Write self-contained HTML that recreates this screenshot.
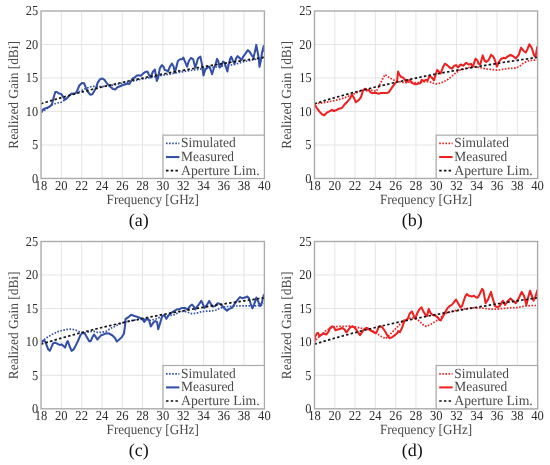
<!DOCTYPE html>
<html><head><meta charset="utf-8"><title>Realized Gain</title>
<style>html,body{margin:0;padding:0;background:#fff;}svg{display:block;filter:blur(0.35px);text-rendering:geometricPrecision;}</style>
</head><body>
<svg width="550" height="465" viewBox="0 0 550 465">
<rect width="550" height="465" fill="#fff"/>
<g>
<path d="M61.35 11.00V178.45M81.66 11.00V178.45M101.96 11.00V178.45M122.27 11.00V178.45M142.57 11.00V178.45M162.88 11.00V178.45M183.18 11.00V178.45M203.49 11.00V178.45M223.79 11.00V178.45M244.10 11.00V178.45M41.05 144.96H264.40M41.05 111.47H264.40M41.05 77.98H264.40M41.05 44.49H264.40" stroke="#e2e2e2" stroke-width="0.9" fill="none"/>
<clipPath id="clipa"><rect x="41.05" y="11.00" width="223.35" height="167.45"/></clipPath>
<g clip-path="url(#clipa)" fill="none" stroke-linejoin="round">
<polyline points="41.3,112.2 46.0,109.4 50.0,106.2 53.1,104.4 57.5,103.0 61.8,102.2 64.9,99.8 67.0,98.2 69.5,95.6 71.6,93.9 74.0,93.4 77.0,92.4 80.0,91.2 83.5,89.6 86.9,88.0 92.4,86.3 97.0,86.6 101.0,86.7 112.1,85.3 122.3,83.3 142.6,79.0 162.9,75.3 183.2,71.6 203.5,68.6 223.8,65.9 233.9,64.6 244.1,61.6 254.2,59.6 264.4,57.9" stroke="#3350a6" stroke-width="1.7" stroke-dasharray="1.6 1.5"/>
<polyline points="41.3,112.2 43.3,109.2 44.9,108.6 46.5,108.1 48.2,107.3 50.4,106.2 52.0,104.0 53.6,97.5 55.3,92.0 56.9,92.0 59.1,93.6 61.3,94.0 62.9,96.4 64.9,99.6 66.7,98.5 69.5,95.3 71.6,93.6 73.8,94.0 76.0,92.9 77.6,89.8 79.3,85.5 82.0,83.1 84.2,83.3 85.8,87.6 88.0,92.0 90.2,94.7 92.4,94.2 94.0,91.5 96.2,87.6 97.6,82.9 99.9,79.4 102.1,78.5 104.3,79.6 107.0,83.5 110.3,86.7 113.0,88.9 115.2,89.5 117.4,87.3 120.1,86.2 122.8,85.1 125.0,84.5 127.2,83.5 129.4,84.0 131.0,81.3 132.6,78.5 134.8,77.5 136.5,75.8 138.6,75.3 140.8,75.8 143.0,73.6 145.2,72.0 147.4,71.5 149.0,74.7 150.6,77.5 152.8,72.0 154.9,69.5 156.0,76.0 156.8,80.9 158.2,77.6 159.8,68.4 162.0,65.1 163.6,66.7 164.7,70.0 166.9,70.5 168.0,71.6 169.6,67.3 171.8,63.5 173.5,66.2 174.9,72.7 176.2,67.8 177.8,61.3 179.5,59.6 182.2,59.1 183.3,57.5 184.9,61.3 187.1,66.7 188.7,61.3 190.9,58.0 193.1,59.1 195.3,67.8 198.0,58.5 200.4,56.6 202.1,65.1 203.5,75.5 205.1,70.0 207.3,67.5 209.3,66.8 210.5,69.3 212.1,74.2 213.7,68.7 215.4,64.9 217.0,58.9 218.1,60.5 219.7,67.6 221.4,66.0 223.0,61.6 224.6,62.7 226.3,68.2 227.4,71.5 228.5,64.9 230.1,58.9 231.2,56.7 232.8,60.5 234.5,63.8 236.1,58.4 237.7,56.2 239.4,57.8 241.5,60.0 243.6,56.1 245.8,53.1 247.9,50.1 249.6,51.8 251.8,55.6 253.5,57.4 254.8,52.2 256.3,44.9 257.5,51.3 258.7,58.2 259.5,66.8 260.8,60.8 262.1,52.2 263.8,45.8 264.4,52.0" stroke="#3350a6" stroke-width="2.05"/>
<polyline points="41.0,103.8 46.1,102.2 51.2,100.6 56.3,99.1 61.4,97.6 66.4,96.2 71.5,94.8 76.6,93.4 81.7,92.1 86.7,90.8 91.8,89.5 96.9,88.3 102.0,87.0 107.0,85.8 112.1,84.7 117.2,83.5 122.3,82.4 127.3,81.3 132.4,80.2 137.5,79.1 142.6,78.1 147.6,77.0 152.7,76.0 157.8,75.0 162.9,74.0 168.0,73.1 173.0,72.1 178.1,71.2 183.2,70.3 188.3,69.4 193.3,68.5 198.4,67.6 203.5,66.8 208.6,65.9 213.6,65.1 218.7,64.3 223.8,63.4 228.9,62.6 233.9,61.8 239.0,61.1 244.1,60.3 249.2,59.5 254.2,58.8 259.3,58.0 264.4,57.3" stroke="#111" stroke-width="1.7" stroke-dasharray="2.5 2.2"/>
</g>
<rect x="41.05" y="11.00" width="223.35" height="167.45" fill="none" stroke="#ababab" stroke-width="1.4"/>
<g font-family="'Liberation Serif', 'DejaVu Serif', serif" font-size="13.6" fill="#2e2e2e">
<text x="38.10" y="182.90" text-anchor="end" textLength="6.2" lengthAdjust="spacingAndGlyphs">0</text>
<text x="38.10" y="149.41" text-anchor="end" textLength="6.2" lengthAdjust="spacingAndGlyphs">5</text>
<text x="38.10" y="115.92" text-anchor="end" textLength="12.3" lengthAdjust="spacingAndGlyphs">10</text>
<text x="38.10" y="82.43" text-anchor="end" textLength="12.3" lengthAdjust="spacingAndGlyphs">15</text>
<text x="38.10" y="48.94" text-anchor="end" textLength="12.3" lengthAdjust="spacingAndGlyphs">20</text>
<text x="38.10" y="15.45" text-anchor="end" textLength="12.3" lengthAdjust="spacingAndGlyphs">25</text>
<text x="41.05" y="190.05" text-anchor="middle" textLength="12.6" lengthAdjust="spacingAndGlyphs">18</text>
<text x="61.35" y="190.05" text-anchor="middle" textLength="12.6" lengthAdjust="spacingAndGlyphs">20</text>
<text x="81.66" y="190.05" text-anchor="middle" textLength="12.6" lengthAdjust="spacingAndGlyphs">22</text>
<text x="101.96" y="190.05" text-anchor="middle" textLength="12.6" lengthAdjust="spacingAndGlyphs">24</text>
<text x="122.27" y="190.05" text-anchor="middle" textLength="12.6" lengthAdjust="spacingAndGlyphs">26</text>
<text x="142.57" y="190.05" text-anchor="middle" textLength="12.6" lengthAdjust="spacingAndGlyphs">28</text>
<text x="162.88" y="190.05" text-anchor="middle" textLength="12.6" lengthAdjust="spacingAndGlyphs">30</text>
<text x="183.18" y="190.05" text-anchor="middle" textLength="12.6" lengthAdjust="spacingAndGlyphs">32</text>
<text x="203.49" y="190.05" text-anchor="middle" textLength="12.6" lengthAdjust="spacingAndGlyphs">34</text>
<text x="223.79" y="190.05" text-anchor="middle" textLength="12.6" lengthAdjust="spacingAndGlyphs">36</text>
<text x="244.10" y="190.05" text-anchor="middle" textLength="12.6" lengthAdjust="spacingAndGlyphs">38</text>
<text x="264.40" y="190.05" text-anchor="middle" textLength="12.6" lengthAdjust="spacingAndGlyphs">40</text>
</g>
<text x="152.72" y="203.55" font-family="'Liberation Serif', 'DejaVu Serif', serif" font-size="14" fill="#4a4a4a" text-anchor="middle" textLength="92.2" lengthAdjust="spacingAndGlyphs">Frequency [GHz]</text>
<text transform="translate(17.60 94.92) rotate(-90)" font-family="'Liberation Serif', 'DejaVu Serif', serif" font-size="14" fill="#4a4a4a" text-anchor="middle" textLength="107.7" lengthAdjust="spacingAndGlyphs">Realized Gain [dBi]</text>
<rect x="163.00" y="135.15" width="101.40" height="43.30" fill="#fff" stroke="#ababab" stroke-width="1.2"/>
<line x1="166.00" x2="179.40" y1="143.45" y2="143.45" stroke="#3350a6" stroke-width="1.7" stroke-dasharray="1.6 1.5"/>
<text x="181.10" y="147.35" font-family="'Liberation Serif', 'DejaVu Serif', serif" font-size="14" fill="#4a4a4a" textLength="54.6" lengthAdjust="spacingAndGlyphs">Simulated</text>
<line x1="166.00" x2="179.40" y1="157.05" y2="157.05" stroke="#3350a6" stroke-width="2.05"/>
<text x="181.10" y="160.95" font-family="'Liberation Serif', 'DejaVu Serif', serif" font-size="14" fill="#4a4a4a" textLength="53.0" lengthAdjust="spacingAndGlyphs">Measured</text>
<line x1="166.00" x2="179.40" y1="170.65" y2="170.65" stroke="#111" stroke-width="1.7" stroke-dasharray="2.5 2.2"/>
<text x="181.10" y="174.55" font-family="'Liberation Serif', 'DejaVu Serif', serif" font-size="14" fill="#4a4a4a" textLength="78.5" lengthAdjust="spacingAndGlyphs">Aperture Lim.</text>
<text x="138.85" y="226.45" font-family="'Liberation Serif', 'DejaVu Serif', serif" font-size="18" fill="#111" text-anchor="middle">(a)</text>
</g>
<g>
<path d="M334.78 11.00V178.45M355.06 11.00V178.45M375.35 11.00V178.45M395.63 11.00V178.45M415.91 11.00V178.45M436.19 11.00V178.45M456.47 11.00V178.45M476.75 11.00V178.45M497.04 11.00V178.45M517.32 11.00V178.45M314.50 144.96H537.60M314.50 111.47H537.60M314.50 77.98H537.60M314.50 44.49H537.60" stroke="#e2e2e2" stroke-width="0.9" fill="none"/>
<clipPath id="clipb"><rect x="314.50" y="11.00" width="223.10" height="167.45"/></clipPath>
<g clip-path="url(#clipb)" fill="none" stroke-linejoin="round">
<polyline points="314.6,103.8 320.0,103.3 326.0,102.3 332.6,101.0 340.0,99.2 345.0,97.6 350.7,95.2 356.0,93.0 361.0,90.8 366.0,89.2 370.0,89.8 373.0,90.6 376.5,91.3 378.5,87.5 380.4,83.4 382.8,78.7 385.1,74.5 387.5,76.3 389.9,78.1 394.6,80.4 399.3,81.6 404.1,82.8 408.0,82.2 412.0,82.3 416.0,82.8 420.0,82.4 425.0,81.6 429.5,81.7 435.4,84.1 441.3,82.9 447.2,79.9 453.1,75.2 459.1,70.4 465.0,68.7 470.9,66.9 475.0,66.6 480.9,67.8 486.8,69.0 492.7,69.6 497.5,70.2 503.4,69.2 509.3,68.4 515.8,68.1 519.3,66.6 523.5,63.1 528.2,61.0 532.9,60.1 537.1,60.1" stroke="#ee2020" stroke-width="1.7" stroke-dasharray="1.6 1.5"/>
<polyline points="314.6,104.2 317.2,108.7 319.7,111.9 322.3,114.5 324.3,115.2 326.8,112.6 329.4,111.3 332.0,110.0 333.9,111.0 336.5,110.0 339.1,108.7 341.7,108.1 344.3,104.8 346.8,102.3 350.1,98.4 352.0,94.5 353.9,97.7 355.9,102.3 358.5,100.3 361.0,97.1 363.0,90.6 364.9,88.7 366.8,90.6 368.8,90.0 370.7,92.6 372.1,92.9 374.5,93.1 376.2,92.9 378.6,93.8 381.0,92.9 383.3,92.9 386.3,93.1 388.7,92.3 390.4,89.9 392.8,86.4 395.2,83.2 397.0,81.6 398.1,71.6 399.3,74.5 401.1,76.9 402.9,77.5 404.6,79.3 406.4,82.2 408.2,80.4 410.0,79.9 411.7,82.8 413.5,83.6 415.3,84.3 417.1,84.0 418.8,83.4 420.2,83.2 421.8,79.9 423.6,81.1 425.9,79.9 427.7,80.5 429.5,75.8 431.8,77.5 434.0,80.3 435.4,75.8 437.2,69.9 438.9,71.6 440.7,73.4 443.1,66.9 444.9,63.7 447.2,65.1 449.6,67.5 452.0,68.7 454.3,65.7 456.1,65.1 457.9,67.5 460.8,64.5 463.2,65.7 466.2,62.8 468.5,64.5 470.9,63.9 472.7,66.9 474.4,62.2 475.6,58.6 477.4,60.4 478.5,63.7 480.3,64.3 482.7,55.4 484.5,60.7 486.2,61.9 488.6,60.1 491.0,54.8 493.3,56.6 495.1,60.7 496.9,66.6 498.6,62.5 501.0,59.0 503.4,57.8 505.1,58.4 507.5,56.6 510.5,54.8 512.8,56.0 515.8,58.4 518.7,54.8 521.1,47.7 523.5,50.7 525.8,52.5 527.6,48.9 529.4,44.2 531.7,47.7 534.1,55.4 535.5,57.2 537.1,47.7 537.6,46.5" stroke="#ee2020" stroke-width="2.05"/>
<polyline points="314.5,103.8 319.6,102.2 324.6,100.6 329.7,99.1 334.8,97.6 339.9,96.2 344.9,94.8 350.0,93.4 355.1,92.1 360.1,90.8 365.2,89.5 370.3,88.3 375.3,87.0 380.4,85.8 385.5,84.7 390.6,83.5 395.6,82.4 400.7,81.3 405.8,80.2 410.8,79.1 415.9,78.1 421.0,77.0 426.1,76.0 431.1,75.0 436.2,74.0 441.3,73.1 446.3,72.1 451.4,71.2 456.5,70.3 461.5,69.4 466.6,68.5 471.7,67.6 476.8,66.8 481.8,65.9 486.9,65.1 492.0,64.3 497.0,63.4 502.1,62.6 507.2,61.8 512.2,61.1 517.3,60.3 522.4,59.5 527.5,58.8 532.5,58.0 537.6,57.3" stroke="#111" stroke-width="1.7" stroke-dasharray="2.5 2.2"/>
</g>
<rect x="314.50" y="11.00" width="223.10" height="167.45" fill="none" stroke="#ababab" stroke-width="1.4"/>
<g font-family="'Liberation Serif', 'DejaVu Serif', serif" font-size="13.6" fill="#2e2e2e">
<text x="311.55" y="182.90" text-anchor="end" textLength="6.2" lengthAdjust="spacingAndGlyphs">0</text>
<text x="311.55" y="149.41" text-anchor="end" textLength="6.2" lengthAdjust="spacingAndGlyphs">5</text>
<text x="311.55" y="115.92" text-anchor="end" textLength="12.3" lengthAdjust="spacingAndGlyphs">10</text>
<text x="311.55" y="82.43" text-anchor="end" textLength="12.3" lengthAdjust="spacingAndGlyphs">15</text>
<text x="311.55" y="48.94" text-anchor="end" textLength="12.3" lengthAdjust="spacingAndGlyphs">20</text>
<text x="311.55" y="15.45" text-anchor="end" textLength="12.3" lengthAdjust="spacingAndGlyphs">25</text>
<text x="314.50" y="190.05" text-anchor="middle" textLength="12.6" lengthAdjust="spacingAndGlyphs">18</text>
<text x="334.78" y="190.05" text-anchor="middle" textLength="12.6" lengthAdjust="spacingAndGlyphs">20</text>
<text x="355.06" y="190.05" text-anchor="middle" textLength="12.6" lengthAdjust="spacingAndGlyphs">22</text>
<text x="375.35" y="190.05" text-anchor="middle" textLength="12.6" lengthAdjust="spacingAndGlyphs">24</text>
<text x="395.63" y="190.05" text-anchor="middle" textLength="12.6" lengthAdjust="spacingAndGlyphs">26</text>
<text x="415.91" y="190.05" text-anchor="middle" textLength="12.6" lengthAdjust="spacingAndGlyphs">28</text>
<text x="436.19" y="190.05" text-anchor="middle" textLength="12.6" lengthAdjust="spacingAndGlyphs">30</text>
<text x="456.47" y="190.05" text-anchor="middle" textLength="12.6" lengthAdjust="spacingAndGlyphs">32</text>
<text x="476.75" y="190.05" text-anchor="middle" textLength="12.6" lengthAdjust="spacingAndGlyphs">34</text>
<text x="497.04" y="190.05" text-anchor="middle" textLength="12.6" lengthAdjust="spacingAndGlyphs">36</text>
<text x="517.32" y="190.05" text-anchor="middle" textLength="12.6" lengthAdjust="spacingAndGlyphs">38</text>
<text x="537.60" y="190.05" text-anchor="middle" textLength="12.6" lengthAdjust="spacingAndGlyphs">40</text>
</g>
<text x="426.05" y="203.55" font-family="'Liberation Serif', 'DejaVu Serif', serif" font-size="14" fill="#4a4a4a" text-anchor="middle" textLength="92.2" lengthAdjust="spacingAndGlyphs">Frequency [GHz]</text>
<text transform="translate(291.05 94.92) rotate(-90)" font-family="'Liberation Serif', 'DejaVu Serif', serif" font-size="14" fill="#4a4a4a" text-anchor="middle" textLength="107.7" lengthAdjust="spacingAndGlyphs">Realized Gain [dBi]</text>
<rect x="436.20" y="135.15" width="101.40" height="43.30" fill="#fff" stroke="#ababab" stroke-width="1.2"/>
<line x1="439.20" x2="452.60" y1="143.45" y2="143.45" stroke="#ee2020" stroke-width="1.7" stroke-dasharray="1.6 1.5"/>
<text x="454.30" y="147.35" font-family="'Liberation Serif', 'DejaVu Serif', serif" font-size="14" fill="#4a4a4a" textLength="54.6" lengthAdjust="spacingAndGlyphs">Simulated</text>
<line x1="439.20" x2="452.60" y1="157.05" y2="157.05" stroke="#ee2020" stroke-width="2.05"/>
<text x="454.30" y="160.95" font-family="'Liberation Serif', 'DejaVu Serif', serif" font-size="14" fill="#4a4a4a" textLength="53.0" lengthAdjust="spacingAndGlyphs">Measured</text>
<line x1="439.20" x2="452.60" y1="170.65" y2="170.65" stroke="#111" stroke-width="1.7" stroke-dasharray="2.5 2.2"/>
<text x="454.30" y="174.55" font-family="'Liberation Serif', 'DejaVu Serif', serif" font-size="14" fill="#4a4a4a" textLength="78.5" lengthAdjust="spacingAndGlyphs">Aperture Lim.</text>
<text x="412.30" y="226.45" font-family="'Liberation Serif', 'DejaVu Serif', serif" font-size="18" fill="#111" text-anchor="middle">(b)</text>
</g>
<g>
<path d="M61.35 241.50V408.80M81.66 241.50V408.80M101.96 241.50V408.80M122.27 241.50V408.80M142.57 241.50V408.80M162.88 241.50V408.80M183.18 241.50V408.80M203.49 241.50V408.80M223.79 241.50V408.80M244.10 241.50V408.80M41.05 375.34H264.40M41.05 341.88H264.40M41.05 308.42H264.40M41.05 274.96H264.40" stroke="#e2e2e2" stroke-width="0.9" fill="none"/>
<clipPath id="clipc"><rect x="41.05" y="241.50" width="223.35" height="167.30"/></clipPath>
<g clip-path="url(#clipc)" fill="none" stroke-linejoin="round">
<polyline points="41.6,341.6 46.5,337.8 52.0,334.5 57.5,331.8 62.9,330.2 67.3,329.4 71.6,329.1 76.0,330.2 80.4,332.4 84.7,332.9 89.1,331.8 93.5,331.3 97.8,332.4 102.0,332.3 105.9,331.4 110.5,328.5 115.9,325.7 121.0,323.3 127.0,321.5 133.0,320.2 139.0,319.5 145.4,319.2 150.0,320.5 155.5,319.2 160.0,317.2 163.1,316.1 169.6,315.5 175.1,314.5 180.5,311.2 186.0,311.7 191.5,313.6 195.8,313.4 201.3,311.7 206.7,311.2 210.6,311.1 216.3,310.0 220.8,307.8 226.4,306.6 232.1,306.3 237.7,305.9 243.3,305.9 249.0,305.9 254.6,305.9 260.2,305.5 264.2,303.8" stroke="#3350a6" stroke-width="1.7" stroke-dasharray="1.6 1.5"/>
<polyline points="41.6,342.7 43.3,340.5 44.9,341.1 46.5,344.9 48.2,349.3 49.8,350.9 51.5,347.1 53.1,343.3 55.3,342.7 57.5,343.8 59.6,344.9 61.8,344.4 63.5,346.0 65.1,347.6 66.7,342.7 67.8,341.1 69.5,346.0 71.6,350.9 73.8,349.3 76.0,344.9 78.2,340.5 80.4,335.1 82.5,332.9 84.7,333.5 86.9,337.3 89.1,341.1 90.7,341.1 92.4,337.3 94.0,334.5 95.6,336.7 97.3,339.5 99.4,337.1 101.5,334.9 103.7,334.4 105.9,333.3 109.2,333.6 112.5,335.5 115.2,338.2 116.8,341.5 119.0,339.8 121.7,337.1 123.9,333.8 125.0,326.2 125.6,318.8 128.0,317.5 131.2,314.8 133.7,315.8 137.7,317.0 142.1,318.6 144.3,321.9 147.0,318.1 149.0,320.0 150.8,326.5 153.3,322.6 155.5,321.0 157.1,322.1 158.2,329.2 159.8,324.3 162.0,316.6 164.2,315.0 166.4,318.8 168.5,315.5 171.3,312.8 174.0,311.2 176.7,309.5 179.5,309.0 182.2,307.9 184.9,307.9 187.6,309.5 189.8,306.3 192.0,304.6 193.6,306.3 195.3,309.5 196.9,306.8 199.1,304.1 201.3,300.8 202.9,304.1 204.5,307.9 206.7,305.2 209.2,300.9 211.2,304.4 212.9,306.6 215.1,306.1 217.4,303.3 219.7,303.8 221.9,305.5 224.2,308.3 227.0,310.6 229.2,308.9 232.1,307.8 234.3,304.4 237.1,300.4 240.0,297.1 242.2,298.2 245.0,297.6 247.3,296.5 249.0,298.2 250.7,303.8 252.4,308.3 254.0,304.9 256.3,297.6 258.0,301.0 260.2,306.1 261.9,302.7 263.6,295.4 264.4,294.2" stroke="#3350a6" stroke-width="2.05"/>
<polyline points="41.0,344.2 46.1,342.6 51.2,341.1 56.3,339.6 61.4,338.1 66.4,336.7 71.5,335.3 76.6,333.9 81.7,332.6 86.7,331.3 91.8,330.0 96.9,328.7 102.0,327.5 107.0,326.3 112.1,325.1 117.2,324.0 122.3,322.8 127.3,321.7 132.4,320.7 137.5,319.6 142.6,318.5 147.6,317.5 152.7,316.5 157.8,315.5 162.9,314.5 168.0,313.6 173.0,312.6 178.1,311.7 183.2,310.8 188.3,309.9 193.3,309.0 198.4,308.1 203.5,307.3 208.6,306.4 213.6,305.6 218.7,304.7 223.8,303.9 228.9,303.1 233.9,302.3 239.0,301.6 244.1,300.8 249.2,300.0 254.2,299.3 259.3,298.5 264.4,297.8" stroke="#111" stroke-width="1.7" stroke-dasharray="2.5 2.2"/>
</g>
<rect x="41.05" y="241.50" width="223.35" height="167.30" fill="none" stroke="#ababab" stroke-width="1.4"/>
<g font-family="'Liberation Serif', 'DejaVu Serif', serif" font-size="13.6" fill="#2e2e2e">
<text x="38.10" y="413.25" text-anchor="end" textLength="6.2" lengthAdjust="spacingAndGlyphs">0</text>
<text x="38.10" y="379.79" text-anchor="end" textLength="6.2" lengthAdjust="spacingAndGlyphs">5</text>
<text x="38.10" y="346.33" text-anchor="end" textLength="12.3" lengthAdjust="spacingAndGlyphs">10</text>
<text x="38.10" y="312.87" text-anchor="end" textLength="12.3" lengthAdjust="spacingAndGlyphs">15</text>
<text x="38.10" y="279.41" text-anchor="end" textLength="12.3" lengthAdjust="spacingAndGlyphs">20</text>
<text x="38.10" y="245.95" text-anchor="end" textLength="12.3" lengthAdjust="spacingAndGlyphs">25</text>
<text x="41.05" y="420.40" text-anchor="middle" textLength="12.6" lengthAdjust="spacingAndGlyphs">18</text>
<text x="61.35" y="420.40" text-anchor="middle" textLength="12.6" lengthAdjust="spacingAndGlyphs">20</text>
<text x="81.66" y="420.40" text-anchor="middle" textLength="12.6" lengthAdjust="spacingAndGlyphs">22</text>
<text x="101.96" y="420.40" text-anchor="middle" textLength="12.6" lengthAdjust="spacingAndGlyphs">24</text>
<text x="122.27" y="420.40" text-anchor="middle" textLength="12.6" lengthAdjust="spacingAndGlyphs">26</text>
<text x="142.57" y="420.40" text-anchor="middle" textLength="12.6" lengthAdjust="spacingAndGlyphs">28</text>
<text x="162.88" y="420.40" text-anchor="middle" textLength="12.6" lengthAdjust="spacingAndGlyphs">30</text>
<text x="183.18" y="420.40" text-anchor="middle" textLength="12.6" lengthAdjust="spacingAndGlyphs">32</text>
<text x="203.49" y="420.40" text-anchor="middle" textLength="12.6" lengthAdjust="spacingAndGlyphs">34</text>
<text x="223.79" y="420.40" text-anchor="middle" textLength="12.6" lengthAdjust="spacingAndGlyphs">36</text>
<text x="244.10" y="420.40" text-anchor="middle" textLength="12.6" lengthAdjust="spacingAndGlyphs">38</text>
<text x="264.40" y="420.40" text-anchor="middle" textLength="12.6" lengthAdjust="spacingAndGlyphs">40</text>
</g>
<text x="152.72" y="433.90" font-family="'Liberation Serif', 'DejaVu Serif', serif" font-size="14" fill="#4a4a4a" text-anchor="middle" textLength="92.2" lengthAdjust="spacingAndGlyphs">Frequency [GHz]</text>
<text transform="translate(17.60 325.35) rotate(-90)" font-family="'Liberation Serif', 'DejaVu Serif', serif" font-size="14" fill="#4a4a4a" text-anchor="middle" textLength="107.7" lengthAdjust="spacingAndGlyphs">Realized Gain [dBi]</text>
<rect x="163.00" y="365.50" width="101.40" height="43.30" fill="#fff" stroke="#ababab" stroke-width="1.2"/>
<line x1="166.00" x2="179.40" y1="373.80" y2="373.80" stroke="#3350a6" stroke-width="1.7" stroke-dasharray="1.6 1.5"/>
<text x="181.10" y="377.70" font-family="'Liberation Serif', 'DejaVu Serif', serif" font-size="14" fill="#4a4a4a" textLength="54.6" lengthAdjust="spacingAndGlyphs">Simulated</text>
<line x1="166.00" x2="179.40" y1="387.40" y2="387.40" stroke="#3350a6" stroke-width="2.05"/>
<text x="181.10" y="391.30" font-family="'Liberation Serif', 'DejaVu Serif', serif" font-size="14" fill="#4a4a4a" textLength="53.0" lengthAdjust="spacingAndGlyphs">Measured</text>
<line x1="166.00" x2="179.40" y1="401.00" y2="401.00" stroke="#111" stroke-width="1.7" stroke-dasharray="2.5 2.2"/>
<text x="181.10" y="404.90" font-family="'Liberation Serif', 'DejaVu Serif', serif" font-size="14" fill="#4a4a4a" textLength="78.5" lengthAdjust="spacingAndGlyphs">Aperture Lim.</text>
<text x="138.85" y="455.90" font-family="'Liberation Serif', 'DejaVu Serif', serif" font-size="18" fill="#111" text-anchor="middle">(c)</text>
</g>
<g>
<path d="M334.78 241.50V408.80M355.06 241.50V408.80M375.35 241.50V408.80M395.63 241.50V408.80M415.91 241.50V408.80M436.19 241.50V408.80M456.47 241.50V408.80M476.75 241.50V408.80M497.04 241.50V408.80M517.32 241.50V408.80M314.50 375.34H537.60M314.50 341.88H537.60M314.50 308.42H537.60M314.50 274.96H537.60" stroke="#e2e2e2" stroke-width="0.9" fill="none"/>
<clipPath id="clipd"><rect x="314.50" y="241.50" width="223.10" height="167.30"/></clipPath>
<g clip-path="url(#clipd)" fill="none" stroke-linejoin="round">
<polyline points="314.4,342.7 316.4,339.5 318.5,337.3 321.5,334.5 325.1,331.3 329.5,328.5 333.8,326.9 339.3,326.4 344.7,326.4 350.2,326.1 355.6,326.9 360.0,328.0 365.0,329.2 371.5,330.2 377.0,333.7 381.4,336.5 385.7,338.6 390.1,334.3 394.5,329.9 397.7,326.6 401.0,322.8 404.3,320.1 408.6,318.5 413.0,317.9 417.4,319.5 420.6,322.3 423.9,325.5 426.5,326.4 430.9,324.2 435.3,321.5 439.6,318.7 443.5,314.9 447.3,312.7 452.7,311.1 458.2,310.0 463.6,308.9 469.1,308.2 475.0,307.6 482.1,308.1 489.2,309.0 496.3,309.2 503.4,308.4 510.5,307.8 517.6,307.6 524.6,306.1 531.7,305.5 537.1,305.5" stroke="#ee2020" stroke-width="1.7" stroke-dasharray="1.6 1.5"/>
<polyline points="314.4,341.1 315.3,336.2 316.9,333.5 318.0,332.9 319.6,336.2 321.8,334.5 324.0,333.5 326.2,334.5 328.4,331.8 330.0,328.0 332.2,326.4 333.8,326.9 335.5,330.2 337.6,329.6 339.8,329.1 342.0,328.0 344.2,329.1 346.4,332.4 348.5,329.6 350.7,326.9 352.4,326.4 354.5,327.5 356.7,330.2 358.4,332.9 360.0,335.1 361.6,332.9 363.8,329.6 366.3,327.8 368.5,328.8 370.5,330.5 372.6,331.5 375.4,333.2 377.0,331.5 378.6,327.2 380.3,326.1 382.5,327.7 385.2,331.5 387.4,335.4 389.5,338.1 391.7,337.5 394.5,335.4 397.2,333.2 398.3,331.0 399.9,332.1 402.1,327.7 404.3,321.2 405.9,320.1 407.5,319.5 409.7,313.5 411.9,311.4 413.5,315.2 415.2,318.5 417.4,313.0 419.5,309.2 421.6,307.4 423.3,311.4 425.5,314.9 427.1,316.0 428.7,308.9 430.4,312.7 432.5,314.9 435.3,315.5 437.5,317.1 439.1,319.8 440.7,320.4 442.9,316.5 445.1,312.2 447.3,308.4 449.5,306.2 452.2,304.5 453.8,302.4 456.0,299.6 458.2,303.5 460.4,307.3 462.0,306.2 463.6,301.3 465.3,296.4 466.9,294.2 469.1,295.8 471.8,296.4 474.0,295.8 476.2,297.5 477.6,297.6 479.7,294.2 482.1,288.9 483.3,290.1 485.6,303.1 488.0,299.6 491.0,291.9 492.7,298.4 495.1,306.1 497.5,307.2 499.8,306.1 502.8,300.7 505.1,304.9 507.5,301.3 510.5,298.4 512.8,300.7 515.8,303.1 518.7,298.4 521.7,291.9 524.1,296.0 526.4,304.9 528.2,297.2 530.0,290.7 531.7,295.4 533.5,300.7 535.3,297.2 537.6,289.5" stroke="#ee2020" stroke-width="2.05"/>
<polyline points="314.5,344.2 319.6,342.6 324.6,341.1 329.7,339.6 334.8,338.1 339.9,336.7 344.9,335.3 350.0,333.9 355.1,332.6 360.1,331.3 365.2,330.0 370.3,328.7 375.3,327.5 380.4,326.3 385.5,325.1 390.6,324.0 395.6,322.8 400.7,321.7 405.8,320.7 410.8,319.6 415.9,318.5 421.0,317.5 426.1,316.5 431.1,315.5 436.2,314.5 441.3,313.6 446.3,312.6 451.4,311.7 456.5,310.8 461.5,309.9 466.6,309.0 471.7,308.1 476.8,307.3 481.8,306.4 486.9,305.6 492.0,304.7 497.0,303.9 502.1,303.1 507.2,302.3 512.2,301.6 517.3,300.8 522.4,300.0 527.5,299.3 532.5,298.5 537.6,297.8" stroke="#111" stroke-width="1.7" stroke-dasharray="2.5 2.2"/>
</g>
<rect x="314.50" y="241.50" width="223.10" height="167.30" fill="none" stroke="#ababab" stroke-width="1.4"/>
<g font-family="'Liberation Serif', 'DejaVu Serif', serif" font-size="13.6" fill="#2e2e2e">
<text x="311.55" y="413.25" text-anchor="end" textLength="6.2" lengthAdjust="spacingAndGlyphs">0</text>
<text x="311.55" y="379.79" text-anchor="end" textLength="6.2" lengthAdjust="spacingAndGlyphs">5</text>
<text x="311.55" y="346.33" text-anchor="end" textLength="12.3" lengthAdjust="spacingAndGlyphs">10</text>
<text x="311.55" y="312.87" text-anchor="end" textLength="12.3" lengthAdjust="spacingAndGlyphs">15</text>
<text x="311.55" y="279.41" text-anchor="end" textLength="12.3" lengthAdjust="spacingAndGlyphs">20</text>
<text x="311.55" y="245.95" text-anchor="end" textLength="12.3" lengthAdjust="spacingAndGlyphs">25</text>
<text x="314.50" y="420.40" text-anchor="middle" textLength="12.6" lengthAdjust="spacingAndGlyphs">18</text>
<text x="334.78" y="420.40" text-anchor="middle" textLength="12.6" lengthAdjust="spacingAndGlyphs">20</text>
<text x="355.06" y="420.40" text-anchor="middle" textLength="12.6" lengthAdjust="spacingAndGlyphs">22</text>
<text x="375.35" y="420.40" text-anchor="middle" textLength="12.6" lengthAdjust="spacingAndGlyphs">24</text>
<text x="395.63" y="420.40" text-anchor="middle" textLength="12.6" lengthAdjust="spacingAndGlyphs">26</text>
<text x="415.91" y="420.40" text-anchor="middle" textLength="12.6" lengthAdjust="spacingAndGlyphs">28</text>
<text x="436.19" y="420.40" text-anchor="middle" textLength="12.6" lengthAdjust="spacingAndGlyphs">30</text>
<text x="456.47" y="420.40" text-anchor="middle" textLength="12.6" lengthAdjust="spacingAndGlyphs">32</text>
<text x="476.75" y="420.40" text-anchor="middle" textLength="12.6" lengthAdjust="spacingAndGlyphs">34</text>
<text x="497.04" y="420.40" text-anchor="middle" textLength="12.6" lengthAdjust="spacingAndGlyphs">36</text>
<text x="517.32" y="420.40" text-anchor="middle" textLength="12.6" lengthAdjust="spacingAndGlyphs">38</text>
<text x="537.60" y="420.40" text-anchor="middle" textLength="12.6" lengthAdjust="spacingAndGlyphs">40</text>
</g>
<text x="426.05" y="433.90" font-family="'Liberation Serif', 'DejaVu Serif', serif" font-size="14" fill="#4a4a4a" text-anchor="middle" textLength="92.2" lengthAdjust="spacingAndGlyphs">Frequency [GHz]</text>
<text transform="translate(291.05 325.35) rotate(-90)" font-family="'Liberation Serif', 'DejaVu Serif', serif" font-size="14" fill="#4a4a4a" text-anchor="middle" textLength="107.7" lengthAdjust="spacingAndGlyphs">Realized Gain [dBi]</text>
<rect x="436.20" y="365.50" width="101.40" height="43.30" fill="#fff" stroke="#ababab" stroke-width="1.2"/>
<line x1="439.20" x2="452.60" y1="373.80" y2="373.80" stroke="#ee2020" stroke-width="1.7" stroke-dasharray="1.6 1.5"/>
<text x="454.30" y="377.70" font-family="'Liberation Serif', 'DejaVu Serif', serif" font-size="14" fill="#4a4a4a" textLength="54.6" lengthAdjust="spacingAndGlyphs">Simulated</text>
<line x1="439.20" x2="452.60" y1="387.40" y2="387.40" stroke="#ee2020" stroke-width="2.05"/>
<text x="454.30" y="391.30" font-family="'Liberation Serif', 'DejaVu Serif', serif" font-size="14" fill="#4a4a4a" textLength="53.0" lengthAdjust="spacingAndGlyphs">Measured</text>
<line x1="439.20" x2="452.60" y1="401.00" y2="401.00" stroke="#111" stroke-width="1.7" stroke-dasharray="2.5 2.2"/>
<text x="454.30" y="404.90" font-family="'Liberation Serif', 'DejaVu Serif', serif" font-size="14" fill="#4a4a4a" textLength="78.5" lengthAdjust="spacingAndGlyphs">Aperture Lim.</text>
<text x="412.30" y="455.90" font-family="'Liberation Serif', 'DejaVu Serif', serif" font-size="18" fill="#111" text-anchor="middle">(d)</text>
</g>
</svg>
</body></html>
